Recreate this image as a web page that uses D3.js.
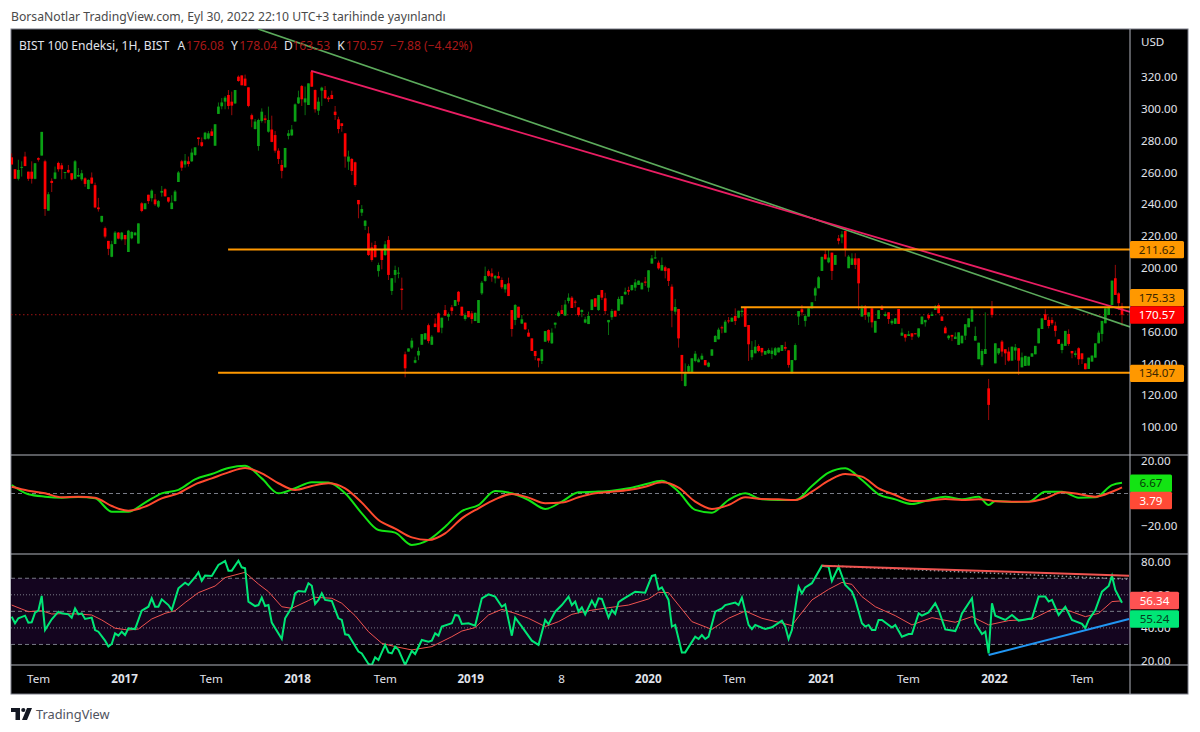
<!DOCTYPE html>
<html>
<head>
<meta charset="utf-8">
<script src="https://cdn.jsdelivr.net/npm/d3@7"></script>
<style>
  html, body { margin: 0; background: #fff; }
  svg { display: block; }
  text { font-family: "Noto Sans", sans-serif; }
</style>
</head>
<body>
<div id="chart"></div>
<script>
// weekly candles, [open, high, low, close], one array per calendar stretch
const candles2016 = [
  [269.5,272,265,265],[262,262,256,256],[256,268,255,261.6],[263,267,257.4,263.5],[270,273,264,264],
  [260.5,260.5,254.7,256],[260.5,267,253,256],[256,265.8,255.7,265.8],[269,269.5,266.8,268],[270.6,285.5,270.6,285.5],
  [267,268,232.7,237],[236,247.7,236,246.3],[254.7,256.3,247.7,253.4],[256,263.7,255.7,260],[266,266.8,260.5,262],
  [264.5,266,255.7,262],[260,260.3,256,260.3],[261.6,264.7,259.5,260],[259.5,259.5,255,255.5],[256,267.8,255.7,267],
  [257.4,262.8,257,258.4],[255.7,261.6,254.7,259.5],[256.3,257,251,252.8],[249.6,255.7,249.4,255.3],[256.8,260,252.8,253],
  [252,253.6,237.5,238],[238,244,235.4,236.9],[229,232.7,228.5,232.7],[225,226,218.6,219.7],[217,217,208,212],
  [207,217,206.7,214.9],[215,223.2,215,222.2],[222.2,222.6,218,218.4],[218,222.6,217.2,222.2]
];
const candles2017 = [
  [220.7,220.7,214.4,218],[210,223.9,210,223.4],[218.6,223,218,222.6],[220.5,222.6,220.5,222.2],[215.3,228,215.3,228],
  [240.6,241.3,235,235.8],[236.9,240.6,236.9,240.6],[246,246,240.2,242],[243.8,249.4,241.7,248.6],[243,246.5,239,240],
  [238.5,242.7,237.7,242],[247.3,251.5,244.8,248.4],[249.4,250,244.8,245],[244.4,244.4,241,241.7],[237,245.7,236.9,241],
  [242,249,241.7,248],[254,260.9,254,260],[267,267.9,261,263],[265,271.6,263,267.4],[267,270,263.7,265.3],
  [267,275,266.6,272.5],[271,275.8,270.4,275.8],[282,282,277,281],[279,282,276,276.7],[281,285.5,280.4,285],
  [281.3,286,280.8,284.6],[285.8,287.5,283,283],[276.8,290.3,276.8,290.3],[296.8,304,296.8,301.4],[301.6,306.8,299.7,304],
  [304.5,308,299.7,307],[308.7,311.8,299.7,301.8],[304.5,310.8,296,302],[303.4,311.8,303,311.8],[320.2,321,317,317.5],
  [321,321,314.8,314.8],[319,321.5,314.5,314.5],[313.5,313.5,301,301.8],[296,297,288.4,293.4],[287.3,293.6,287,292],
  [276.6,293.8,273.7,293],[292.3,300.3,291.3,298.2],[294,296,290.9,293],[285.6,301.4,285,293],[287,295.7,279,279.2],
  [283.5,286,272.4,273.7],[273.7,275.2,265.3,268.5],[264.7,267.8,256.3,261],[263.2,275.4,263,275.4],[283,286.7,280.8,284.6],
  [283.3,289.8,283,287],[292,303.4,292,302.8]
];
const candles2018 = [
  [303.4,311.4,303,307.2],[314.3,315,301.8,306],[304,314,296,306.6],[302.4,316,302.4,316],[323.4,323.4,313.9,313.9],
  [311.8,312.2,297.6,299.7],[298.8,307.2,296.1,304.5],[311.4,313.9,301.8,313.3],[311.8,314.3,306.2,306.6],[307,308,304.3,306],
  [308.7,311.4,306.2,306.2],[298.2,301.8,293,296.1],[293.4,295,284.6,287.3],[290.9,290.9,285.6,289.2],[284.6,284.6,263,270],
  [266.8,273.7,261.6,270],[268.5,269,258.4,260.9],[266.4,266.8,251,252.1],[242.7,242.7,231.2,240],[234.7,239.5,232.6,237],
  [226.4,230,223.8,229.7],[221.7,225.9,207.5,208.1],[212.9,215.9,203.9,205],[214.4,216.9,206.7,206.7],[198,203.3,194.5,201.8],
  [211.3,211.3,199.1,205],[208.1,216.9,207.5,214.8],[217.6,220,192.4,195.6],[185.5,193.5,183,193.5],[195.6,201.4,190.7,198.7],
  [196.7,200.4,193.5,197],[187,193.9,173.6,186.1],[145.7,147.4,131.2,136.9],[147.4,149.4,147.4,149.4],[149.9,156,149,154.3],
  [140.4,144.2,140,142],[145,150,142,147.8],[151.7,158.5,151.7,158.4],[155,159,155,158.9],[164,165,152.6,154],
  [151.7,157.8,151.5,156.8],[165,168.3,162.8,162.8],[171.4,172,159.5,159.5],[162.4,168.7,158.9,168.7],[173.5,176.7,170,170],
  [169.3,172,166.8,171],[175.2,176.7,171,173],[176,179.8,176,179.8],[185,185.5,176.7,178.8],[175.6,175.6,170,170],
  [167.9,171.8,166.8,170.4],[172.9,172.9,169,169]
];
const candles2019 = [
  [171.4,172.9,165,167.9],[166.6,171.8,166.6,171.8],[165.4,179.8,165.4,179.8],[184,191.8,183,190.7],[191.8,200.8,191.3,194.9],
  [198,199,194.5,195],[196.6,199.7,191.3,194.5],[193.4,195.5,190.3,195],[194.9,197.6,193.4,193.4],[192.4,194,186.7,187.8],
  [186.5,189.7,184.4,189.7],[190.3,193.9,182.3,182.3],[173.5,173.5,156.8,161.6],[167.3,177.3,164,176.7],[175.6,175.6,168.7,168.7],
  [165,170.4,164.7,167.7],[165.6,165.6,161,161.4],[159.3,161.4,156.8,156.8],[155.7,155.7,147.8,147.8],[147.8,147.8,142,144.6],
  [143.2,143.2,137.5,141.7],[141.5,148.8,139.6,148.8],[153.6,160.3,153.6,160.3],[161,161.4,153,154.3],[152.6,162,152.2,159.3],
  [164.3,165.6,162,165.6],[169.8,173,169.3,171.9],[173.5,176.7,171,171],[170,179.8,170,177],[179.2,184,177.7,181.3],
  [181.3,182.3,174.8,174.8],[178.8,179.8,175.2,178.2],[175.2,175.2,169.4,170.4],[172.3,174,169,173.5],[165.6,169.3,165.2,167.7],
  [164.7,172.5,164.7,169.8],[173.5,180.2,173.5,180.2],[180.9,180.9,175.6,175.6],[173.5,183,173,183],[186.1,186.1,179.8,181.3],
  [180.9,184.4,170.8,172.9],[165.8,167.3,157.8,167.3],[169,174.2,167.3,172.9],[173.1,173.1,169.4,169.4],[173.1,181.9,173.1,180.5],
  [177.1,182.3,177.1,182.3],[183.4,187.6,183,185],[186.1,188.2,183,185.1],[186.1,189.3,185.5,189.3],[187.6,193,185.5,190.9],
  [189.3,192,189.3,192],[186.5,190.7,186.5,190.7],[191.4,194.3,188.6,190.7]
];
const candles2020 = [
  [187.6,198.5,185,198.5],[202.7,208.1,202.7,206],[206,211.3,205.6,206.6],[203.3,204.6,198.9,199.7],[198.3,206.6,198.3,201.8],
  [200.4,201.4,193.4,198],[199.7,199.7,188.6,191.8],[188.2,189.7,162.7,173.1],[172.5,180.5,170.8,175.4],[174.2,174.2,149.9,155.7],
  [145.3,145.3,128.9,134.8],[125.8,140,125.4,133.7],[134.8,139.4,134.4,138.3],[134.4,143.2,134.4,143.2],[141.5,147.8,140.7,146.1],
  [140.7,143.6,140.7,142.5],[142.5,146.3,142.1,144.8],[142.1,142.1,138.8,138.8],[137.9,141,137.5,140.4],[144.8,148.8,144.8,148.8],
  [153.4,157.8,153.4,157.2],[155.1,162.4,155.1,161.2],[162.7,163.7,158.9,162],[159.3,167.3,159.3,166.2],[167,169.1,165.2,166.6],
  [166.2,168.7,166.2,168.7],[169.8,174.6,164.1,166.6],[168.7,173.1,168.3,173.1],[172.3,174.6,169.4,173.1],[175,175,163,163],
  [164.1,164.1,141.5,152],[143.8,154,142.1,148.4],[146.3,154.7,146.3,150.5],[150.9,152,147,147.8],[149.7,149.7,144.6,146.9],
  [145.5,147.8,145.5,147.8],[146.3,149.5,145.9,148.4],[145.9,149.9,142.7,148],[145.2,150.3,144.6,149.5],[146.9,149.9,146.9,149.9],
  [147.8,151.5,147.8,151.5],[150.3,153.6,147.8,149.2],[148.2,148.2,137.3,139],[133.7,142.1,133.7,142.1],[142.1,152.6,141.7,151.5],
  [169.4,172.9,164.1,172.9],[174,176.7,170,172.1],[166.7,170.9,163.1,169.8],[169.4,174.6,169.4,174.6],[174.6,178.4,174.6,178.4],
  [182.6,188.2,179.2,187.2],[187.2,194.9,187.2,194.1]
];
const candles2021 = [
  [198.1,207.2,198.1,206.9],[208.6,211.3,205.4,205.4],[203.5,211.3,202.9,206.5],[209.6,209.6,192.4,198.1],[201.9,208.1,201.9,208.1],
  [218.6,220.7,214.8,217],[219.2,223.2,215.5,221.1],[223.2,223.2,207.1,211.3],[199.8,208.1,199.8,207.1],[201.9,209.2,201.9,206],
  [206,209.2,199.3,201.9],[206,206,173.6,190.3],[169.4,176.7,169.4,174.6],[175.7,176.7,167.3,170.4],[169.4,172.1,165.6,172.1],
  [174.6,174.6,162.5,165.8],[159.3,166.7,159.3,166.7],[167.9,173.4,167.9,173.4],[175.7,176.7,173.6,173.6],[169.8,172.5,169.4,171],
  [172.1,172.1,164.8,167.9],[165.2,167.7,164.2,166.7],[164.8,168.3,164.8,168.3],[174.2,174.2,164.8,164.8],[157.4,162,157.4,159.3],
  [158.3,158.3,153.7,156.2],[157.2,160.4,157.2,158.3],[158.9,158.9,154.7,156.8],[158.9,158.9,158.3,158.3],[156.8,162,155.9,162],
  [164.6,169.4,164.6,169.4],[165.8,167.3,163.1,167.3],[170.4,171.5,167.3,168.3],[169.8,172.5,169.8,170.9],[173.6,176.7,173.6,175.7],
  [176.7,177.8,171.5,171.5],[169.4,170,166.7,166.7],[162.5,163.5,158.9,158.9],[155.8,157.9,154.7,157.4],[157.9,157.9,154,156.8],
  [155.3,159.5,155.3,156.8],[151.6,159.5,151.6,159.5],[152.6,157.4,152.6,157.4],[157.4,164.6,154.7,164.6],[162.7,168.3,162.7,168.3],
  [166.2,174.6,166.2,173.6],[154.3,163.1,154.3,157.2],[142.6,153,142.6,153],[139,149,138,147.8],[145.9,172.1,145.9,149],
  [124.3,130.2,104.4,113.9],[175,179.2,168.8,170.4]
];
const candles2022 = [
  [140,152.6,140,152.6],[146.3,149.5,145.3,149.5],[153.7,154.7,144.2,147.4],[148.9,148.9,139,146.3],[147.4,150.1,141.1,141.7],
  [141.7,150.5,141.7,150.5],[148,152.2,142.2,150.1],[149.5,149.5,132.7,141.7],[137.5,146.8,137.5,143.8],[138.4,144.7,138.4,144.7],
  [138.6,144.2,138.6,144.2],[144.2,146.3,144.2,146.3],[145.7,151,145.7,151],[152.6,162,152.6,162],[161.6,168.3,161.6,168.3],
  [170.9,174,167.3,167.3],[167.3,169.4,162,163.5],[167.3,169,164.1,165.2],[163.7,166.2,156.8,160.4],[155.1,155.1,152.2,152.2],
  [148.4,153,146.3,152.2],[151,160.4,151,160.4],[158.5,161.4,151,152.2],[147.8,147.8,143.2,146.3],[145.3,148,143.8,146.3],
  [149.5,150.1,139,142.6],[146.3,146.3,139.6,142.6],[140,140,136.3,136.3],[136.5,143.6,136.5,143.6],[141.1,144.9,141.1,144.9],
  [143.6,152.6,143.6,152.6],[152.6,160.6,152.6,159.3],[158.5,166.7,153.7,166.7],[165.2,174.6,165.2,174.6],[170.4,175.7,170.4,175.7],
  [176.7,192,176.7,192],[193.5,201.9,183,183],[184,184.7,173.6,177.8],[176.08,178.04,163.53,170.57]
];

// oscillator panel: macd and signal, read every five weeks
const macdWeeks = [0,5,10,15,20,25,30,35,40,45,50,55,60,65,70,75,80,85,90,95,100,105,110,115,
  120,125,130,135,140,145,150,155,160,165,170,175,180,185,190,195,200,205,210,215,220,225,230,235,
  240,245,250,255,260,265,270,275,280,285,290,293,295,300,305,310,315,320,325,330,333];
const macdLine = [5.2,-0.5,-1.95,-2.56,-2.15,-2.97,-11.2,-11.2,-5.6,0.1,2.2,8.7,12,15.7,17.1,9.3,0.1,3.2,6.9,6.7,0.1,-12.2,-22.5,-24.1,
  -31.7,-28.6,-20.4,-10.8,-7.1,1.5,0.1,-4,-9.5,-5,0.7,1.1,1.75,3.2,5.65,7.9,1.1,-10.1,-11.8,-4,0.1,-3.6,-4,-4,
  4.6,12.8,15.5,8.3,-0.5,-3.6,-6.5,-4,-1.95,-3.6,-1.95,-7.1,-4.6,-5.2,-5,1.1,1.1,-2.56,-2.35,5.2,6.67];
const signalLine = [4.2,1.75,0.1,-2.35,-1.95,-2.56,-7.7,-10.6,-8.1,-3,0.1,5.65,9.3,13,15.7,12.4,6.3,2.2,4.6,6.3,3.2,-5.6,-16.3,-21.6,
  -27,-28.6,-24.5,-15.3,-9.1,-3.6,-0.3,-2.56,-6.05,-5.6,-2.35,0.1,1.1,2.2,4.2,6.9,3.6,-5,-9.5,-7.1,-2.35,-3.4,-3.6,-4,
  1.1,7.9,12,10.4,3.2,-0.9,-4.6,-4.4,-3.4,-4,-3.6,-4,-4.8,-5,-5,-3,0.7,-0.3,-1.95,1.1,3.79];

// rsi panel, [week, value]
const rsiLine = [
  [0,46.8],[1,42.8],[2,45.8],[4,47.4],[5,43.2],[6,43.4],[7,49.2],[8,50.4],[9,59.3],[10,38.7],[12,45.2],[14,49.8],[15,48.8],[17,48.2],[18,46.2],
  [19,51.8],[20,48.2],[21,48.8],[22,45.4],[24,46.2],[25,38.7],[26,37.7],[28,32.3],[29,28.7],[30,30.3],[31,36.7],[32,35.3],[33,37.7],[34,35.7],[35,39.8],
  [37,39.3],[39,50.4],[41,52.8],[42,57.9],[43,52.8],[44,52.8],[45,57.3],[47,53.8],[48,50.8],[50,63.9],[52,67.3],[53,65.9],[55,70.6],[56,73.6],[57,68.4],
  [58,71.6],[60,71.4],[62,78],[64,80.4],[65,74.6],[66,74.6],[68,80.6],[69,76.6],[70,76],[71,55.9],[73,53.2],[74,53.8],[75,58.3],[76,53.2],[77,53.8],
  [78,43.2],[81,33.3],[82,45.8],[84,52.4],[85,60.9],[86,62.3],[88,61.9],[89,67],[90,65.5],[91,54.5],[92,56.9],[93,60.9],[94,56.9],[96,56.3],[98,45.8],
  [99,44.8],[100,36.1],[101,35.7],[104,25.7],[105,24.6],[107,18.2],[108,17.6],[109,22.2],[110,20.6],[112,29.7],[113,25.2],[114,24.6],[115,28.7],[116,26.7],
  [118,17.6],[120,26.1],[121,24.2],[123,32.7],[125,31.7],[126,32.3],[127,36.7],[128,35.3],[129,40.8],[132,42.8],[133,47.8],[134,47.4],[135,42.4],[137,42.8],
  [139,41.4],[141,57.9],[143,60.3],[145,58.9],[147,52.8],[148,54.2],[150,35.3],[151,46.2],[153,40.8],[156,32.3],[158,29.7],[160,44.8],[161,42.2],[163,49.8],
  [165,53.8],[167,58.9],[168,53.8],[169,55.9],[170,49.8],[171,52.4],[172,48.2],[174,56.5],[175,52.8],[176,57.9],[177,57.5],[179,46.2],[180,50.8],[181,48.4],
  [182,55.5],[183,56.9],[187,61.9],[190,61.3],[192,71.4],[193,72],[194,63.3],[195,64.5],[197,56.9],[198,40.8],[199,41.8],[201,25.2],[202,25.2],[205,34.7],
  [206,33.3],[207,35.7],[208,33.3],[209,34.7],[211,49.8],[213,51.8],[214,53.8],[217,55.3],[218,53.8],[219,58.3],[221,41.8],[222,39.3],[223,41.8],[226,39.3],
  [228,40.4],[231,44.4],[232,40.8],[233,33.3],[234,38.7],[236,64.9],[237,60.9],[238,64.5],[240,67],[243,77.6],[245,77],[246,68.4],[248,77],[250,65.9],
  [252,61.9],[253,56.9],[255,42.8],[256,40.8],[257,41.8],[258,38.7],[259,38.7],[260,44.8],[261,44.8],[263,41.8],[264,40.2],[265,41.8],[267,34.7],[269,36.3],
  [270,36.3],[272,48.8],[273,47.4],[275,49.4],[277,54.9],[278,50.8],[280,39.1],[283,38.1],[284,42.4],[285,48.8],[288,57.9],[289,42.8],[291,36.3],[292,37.7],
  [293,24.6],[294,54.9],[295,47.4],[298,44.8],[300,47.8],[302,44.4],[306,45.8],[308,58.9],[310,58.9],[311,55.9],[312,56.9],[314,47.8],[316,52.8],[318,44.8],
  [321,42.4],[322,39.8],[323,44.8],[325,50.8],[327,61.9],[329,65.3],[330,71.4],[331,62.9],[333,55.24]
];
const rsiAverage = [
  [0,53.8],[3,51.4],[5,49.8],[9,50.4],[12,48.4],[15,48.6],[20,48.4],[24,47.8],[27,44.8],[31,39.8],[35,38.7],[38,39.3],[42,45.4],[46,48.8],[49,50.4],[52,55.3],
  [56,61.3],[61,65.3],[64,70.4],[67,72],[70,73.6],[72,70],[74,66.5],[77,61.9],[81,52.8],[84,51.8],[89,56.5],[91,58.5],[96,57.9],[99,54.9],[103,47.4],[107,37.7],
  [111,30.7],[115,28.7],[120,26.7],[126,28.7],[132,34.7],[135,38.1],[139,40.2],[143,47.8],[147,51.2],[151,48.8],[155,45.8],[160,40.8],[164,43.8],[168,48.2],
  [173,50.4],[179,52.2],[185,53.8],[191,57.5],[194,61.5],[197,61.3],[200,53.8],[204,43.8],[210,39.1],[215,45.8],[220,50.2],[225,45.8],[230,43.4],[234,41.4],
  [236,46.8],[240,56.9],[245,63.3],[249,67.5],[252,66.3],[255,58.9],[259,52.8],[265,47.4],[270,41.8],[276,46.2],[283,43.4],[288,46.8],[293,41.8],[299,44.4],
  [306,45.2],[312,51.2],[316,51.2],[322,46.8],[326,48.8],[330,55.9],[333,56.34]
];

// drawn levels and trend lines, by week and value
const levelValues = [211.62, 175.33, 134.07];
const levelStarts = [64.9, 218.7, 61.9];
const greenTrend = [[73.9, 350.2], [335.4, 162.9]];
const pinkTrend = [[89.8, 323.8], [335.4, 172.3]];
const rsiTopTrend = [[243, 77.6], [335.1, 71.5]];
const rsiTopDotted = [[243, 77.6], [335.1, 69.4]];
const rsiLowTrend = [[293, 23.6], [335.1, 45.4]];

// axes, 180 sits behind the 175.33 tag in the picture so it is not listed
const priceTicks = [100, 120, 140, 160, 200, 220, 240, 260, 280, 300, 320];
const macdTicks = [20, -20];
const rsiTicks = [80, 60, 40, 20];
const rsiBands = [70, 60, 50, 40, 30];
const timeWeeks = [7.9, 33.7, 59.7, 85.6, 111.9, 137.5, 164.8, 190.8, 216.6, 242.7, 268.8, 294.6, 320.9];
const timeLabels = ['Tem', '2017', 'Tem', '2018', 'Tem', '2019', '8', '2020', 'Tem', '2021', 'Tem', '2022', 'Tem'];

const width = 1200, height = 732;
const left = 11, right = 1130, edge = 1188;
const mainTop = 29, mainBottom = 455, macdBottom = 554, rsiBottom = 665, frameBottom = 694;
const labelSize = 11.6;

const weeks = [].concat(candles2016, candles2017, candles2018, candles2019, candles2020, candles2021, candles2022);

const x = d3.scaleLinear().domain([0, 333]).range([11.7, 1122]);
const yPrice = d3.scaleLinear().domain([100, 320]).range([427, 77]);
const yMacd = d3.scaleLinear().domain([-20, 20]).range([526, 461]);
const yRsi = d3.scaleLinear().domain([20, 80]).range([661, 561.7]);

const svg = d3.select('#chart').append('svg').attr('width', width).attr('height', height);

svg.append('text').attr('x', 11).attr('y', 21)
  .attr('font-size', 12.2).attr('fill', '#4a4a4a')
  .text('BorsaNotlar TradingView.com, Eyl 30, 2022 22:10 UTC+3 tarihinde yayınlandı');

svg.append('rect').attr('x', left).attr('y', mainTop)
  .attr('width', edge - left).attr('height', frameBottom - mainTop)
  .attr('fill', '#000').attr('stroke', '#787b86');

let addClip = function(id, top, bottom) {
  svg.append('clipPath').attr('id', id).append('rect')
    .attr('x', left).attr('y', top).attr('width', right - left).attr('height', bottom - top);
  return svg.append('g').attr('clip-path', `url(#${id})`);
};

// main panel
let main = addClip('mainClip', mainTop, mainBottom);

main.append('line').attr('x1', left).attr('x2', right)
  .attr('y1', yPrice(170.57)).attr('y2', yPrice(170.57))
  .attr('stroke', '#a01414').attr('stroke-dasharray', '1.5,2.5');

let candle = main.selectAll('g.candle').data(weeks).join('g').attr('class', 'candle');
candle.append('line')
  .attr('x1', (d, i) => x(i)).attr('x2', (d, i) => x(i))
  .attr('y1', d => yPrice(d[1])).attr('y2', d => yPrice(d[2]))
  .attr('stroke', d => d[3] >= d[0] ? '#0a6e10' : '#960a0a');
candle.append('rect')
  .attr('x', (d, i) => x(i) - 1.35).attr('width', 2.7)
  .attr('y', d => yPrice(Math.max(d[0], d[3])))
  .attr('height', d => Math.max(1, Math.abs(yPrice(d[0]) - yPrice(d[3]))))
  .attr('fill', d => d[3] >= d[0] ? '#0aa014' : '#ff0000');

let trend = d3.line().x(d => x(d[0])).y(d => yPrice(d[1]));
main.append('path').attr('d', trend(greenTrend)).attr('fill', 'none').attr('stroke', '#5cab5c').attr('stroke-width', 1.6);
main.append('path').attr('d', trend(pinkTrend)).attr('fill', 'none').attr('stroke', '#e91e63').attr('stroke-width', 1.8);

main.selectAll('line.level').data(levelValues).join('line').attr('class', 'level')
  .attr('x1', (d, i) => x(levelStarts[i])).attr('x2', right)
  .attr('y1', d => yPrice(d)).attr('y2', d => yPrice(d))
  .attr('stroke', '#ff9800').attr('stroke-width', 2);

svg.append('text').attr('x', 1141).attr('y', 46).attr('font-size', labelSize).attr('fill', '#e0e3eb').text('USD');

// legend of the main panel
const legendParts = [
  ['BIST 100 Endeksi, 1H, BIST', 19, '#e0e3eb'],
  ['A', 177.5, '#e0e3eb'], ['176.08', 186, '#a81818'],
  ['Y', 231, '#e0e3eb'], ['178.04', 239.3, '#a81818'],
  ['D', 284, '#e0e3eb'], ['163.53', 292.3, '#a81818'],
  ['K', 337.3, '#e0e3eb'], ['170.57', 345.7, '#a81818'],
  ['−7.88 (−4.42%)', 390, '#a81818']
];
svg.selectAll('text.legend').data(legendParts).join('text').attr('class', 'legend')
  .attr('x', d => d[1]).attr('y', 49.5).attr('font-size', 12.1).attr('fill', d => d[2]).text(d => d[0]);

// macd panel
let macd = addClip('macdClip', mainBottom, macdBottom);
macd.append('line').attr('x1', left).attr('x2', right)
  .attr('y1', yMacd(0)).attr('y2', yMacd(0))
  .attr('stroke', '#787b86').attr('stroke-dasharray', '4,3');
let macdPath = d3.line().x((d, i) => x(macdWeeks[i])).y(d => yMacd(d)).curve(d3.curveMonotoneX);
macd.append('path').attr('d', macdPath(macdLine)).attr('fill', 'none').attr('stroke', '#14e414').attr('stroke-width', 2);
macd.append('path').attr('d', macdPath(signalLine)).attr('fill', 'none').attr('stroke', '#ff4a2e').attr('stroke-width', 2);

// rsi panel
let rsi = addClip('rsiClip', macdBottom, rsiBottom);
rsi.append('rect').attr('x', left).attr('width', right - left)
  .attr('y', yRsi(70)).attr('height', yRsi(30) - yRsi(70)).attr('fill', '#14051f');
rsi.selectAll('line.band').data(rsiBands).join('line').attr('class', 'band')
  .attr('x1', left).attr('x2', right)
  .attr('y1', d => yRsi(d)).attr('y2', d => yRsi(d))
  .attr('stroke', '#787b86')
  .attr('stroke-dasharray', d => d % 20 === 0 ? '1,2' : '4,3');
let rsiPath = d3.line().x(d => x(d[0])).y(d => yRsi(d[1]));
rsi.append('path').attr('d', rsiPath(rsiTopDotted)).attr('fill', 'none').attr('stroke', '#9598a1').attr('stroke-width', 1.5).attr('stroke-dasharray', '1.5,2.5');
rsi.append('path').attr('d', rsiPath(rsiAverage)).attr('fill', 'none').attr('stroke', '#ef5350').attr('stroke-width', 1);
rsi.append('path').attr('d', rsiPath(rsiLine)).attr('fill', 'none').attr('stroke', '#00e676').attr('stroke-width', 2);
rsi.append('path').attr('d', rsiPath(rsiTopTrend)).attr('fill', 'none').attr('stroke', '#ef5350').attr('stroke-width', 2);
rsi.append('path').attr('d', rsiPath(rsiLowTrend)).attr('fill', 'none').attr('stroke', '#2196f3').attr('stroke-width', 2);

// frame
svg.selectAll('line.sep').data([mainBottom, macdBottom, rsiBottom]).join('line').attr('class', 'sep')
  .attr('x1', left).attr('x2', edge).attr('y1', d => d).attr('y2', d => d)
  .attr('stroke', '#b2b5be');
svg.append('line').attr('x1', right).attr('x2', right).attr('y1', mainTop).attr('y2', frameBottom).attr('stroke', '#b2b5be');

// axes
let styleAxis = function(g) {
  g.select('.domain').remove();
  g.selectAll('text').attr('fill', '#e0e3eb').attr('font-size', labelSize).attr('font-family', '"Noto Sans", sans-serif');
};
let rightAxis = (scale, ticks) => d3.axisRight(scale).tickValues(ticks).tickSize(0).tickPadding(11)
  .tickFormat(d => d3.format('.2f')(d).replace('-', '−'));
svg.append('g').attr('transform', `translate(${right},0)`).call(rightAxis(yPrice, priceTicks)).call(styleAxis);
svg.append('g').attr('transform', `translate(${right},0)`).call(rightAxis(yMacd, macdTicks)).call(styleAxis);
svg.append('g').attr('transform', `translate(${right},0)`).call(rightAxis(yRsi, rsiTicks)).call(styleAxis);
svg.append('g').attr('transform', `translate(0,${rsiBottom})`)
  .call(d3.axisBottom(x).tickValues(timeWeeks).tickSize(0).tickPadding(10).tickFormat((d, i) => timeLabels[i]))
  .call(styleAxis)
  .selectAll('text').attr('font-weight', (d, i) => /^20/.test(timeLabels[i]) ? 'bold' : 'normal');

// value tags on the right side
const tagValues = ['211.62', '175.33', '170.57', '134.07', '6.67', '3.79', '56.34', '55.24'];
const tagCenters = [249.6, 297.6, 315, 373.4, 483.3, 500.5, 600.5, 619];
const tagWidths = [54, 54, 54, 54, 42, 42, 49, 49];
const tagFills = ['#ff9800', '#ff9800', '#ff0000', '#ff9800', '#13e413', '#ff4a36', '#ff5252', '#00e676'];
const tagInks = ['#3a2600', '#3a2600', '#fff', '#3a2600', '#063c06', '#fff', '#fff', '#053d20'];
let tag = svg.selectAll('g.tag').data(tagValues).join('g').attr('class', 'tag');
tag.append('rect').attr('x', right).attr('rx', 1.5)
  .attr('y', (d, i) => tagCenters[i] - 8.7).attr('height', 17.4)
  .attr('width', (d, i) => tagWidths[i]).attr('fill', (d, i) => tagFills[i]);
tag.append('text').attr('x', (d, i) => right + tagWidths[i] / 2).attr('text-anchor', 'middle')
  .attr('y', (d, i) => tagCenters[i] + 4).attr('font-size', labelSize)
  .attr('fill', (d, i) => tagInks[i]).text(d => d);

// tradingview mark
svg.append('path').attr('fill', '#131722')
  .attr('d', 'M11 708h9v12h-4.5v-8H11z M27 708h5l-5 12h-5z');
svg.append('circle').attr('cx', 23.3).attr('cy', 710).attr('r', 2.1).attr('fill', '#131722');
svg.append('text').attr('x', 36).attr('y', 718.5).attr('font-size', 12.8).attr('fill', '#50535e').text('TradingView');
</script>
</body>
</html>
